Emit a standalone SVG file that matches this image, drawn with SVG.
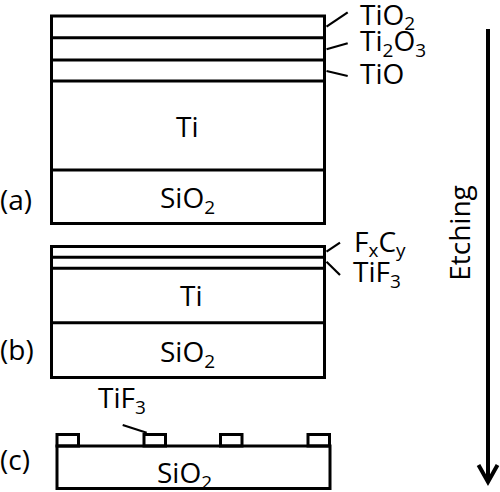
<svg xmlns="http://www.w3.org/2000/svg" width="500" height="492" viewBox="0 0 500 492">
<style>
.box{fill:none;stroke:#000;stroke-width:3}
.ln{stroke:#000;stroke-width:3;fill:none}
.ld{stroke:#000;stroke-width:2.2;fill:none}
text{font-family:"Open Sans","Noto Sans",sans-serif;font-size:28px;fill:#000}
.sub{font-size:19px}
</style>
<rect width="500" height="492" fill="#fff"/>
<g id="panel-a">
<rect class="box" x="51.5" y="16" width="273" height="207.5"/>
<line class="ln" x1="51.5" y1="37.7" x2="324.5" y2="37.7"/>
<line class="ln" x1="51.5" y1="60" x2="324.5" y2="60"/>
<line class="ln" x1="51.5" y1="81" x2="324.5" y2="81"/>
<line class="ln" x1="51.5" y1="170" x2="324.5" y2="170"/>
<text x="176" y="137">Ti</text>
<text x="160" y="208">SiO<tspan class="sub" dy="6">2</tspan></text>
<text x="0" y="210">(a)</text>
</g>
<g id="panel-b">
<rect class="box" x="51.5" y="246.5" width="273" height="131"/>
<line class="ln" x1="51.5" y1="257.3" x2="324.5" y2="257.3"/>
<line class="ln" x1="51.5" y1="268.3" x2="324.5" y2="268.3"/>
<line class="ln" x1="51.5" y1="322.7" x2="324.5" y2="322.7"/>
<text x="180" y="306">Ti</text>
<text x="160" y="362">SiO<tspan class="sub" dy="6">2</tspan></text>
<text x="0" y="360">(b)</text>
</g>
<g id="panel-c">
<rect class="box" x="57" y="446" width="273" height="42.5"/>
<rect class="box" x="57" y="434.5" width="21.5" height="11.5"/>
<rect class="box" x="144" y="434.5" width="21.5" height="11.5"/>
<rect class="box" x="220.5" y="434.5" width="21.5" height="11.5"/>
<rect class="box" x="308" y="434.5" width="21.5" height="11.5"/>
<text x="157" y="483">SiO<tspan class="sub" dy="6">2</tspan></text>
<text x="0" y="470">(c)</text>
</g>
<g id="labels">
<text x="360" y="25">TiO<tspan class="sub" dy="5">2</tspan></text>
<text x="360" y="51">Ti<tspan class="sub" dy="6">2</tspan><tspan dy="-6">O</tspan><tspan class="sub" dy="6">3</tspan></text>
<text x="360" y="84">TiO</text>
<text x="354" y="252">F<tspan class="sub" dy="5">x</tspan><tspan dy="-5">C</tspan><tspan class="sub" dy="5">y</tspan></text>
<text x="353" y="282">TiF<tspan class="sub" dy="6">3</tspan></text>
<text x="98" y="408">TiF<tspan class="sub" dy="6">3</tspan></text>
<text transform="translate(470,233) rotate(-90)" text-anchor="middle">Etching</text>
</g>
<g id="connectors">
<line class="ld" x1="326.5" y1="26.7" x2="347.7" y2="12.3"/>
<line class="ld" x1="326.5" y1="49.3" x2="347.7" y2="43.3"/>
<line class="ld" x1="326.5" y1="71" x2="347.7" y2="76"/>
<line class="ld" x1="326.5" y1="251.7" x2="340" y2="242.7"/>
<line class="ld" x1="326.5" y1="261.7" x2="340" y2="275"/>
<line class="ld" x1="122.7" y1="425" x2="146.7" y2="432.7"/>
<line x1="488" y1="29" x2="488" y2="481" stroke="#000" stroke-width="4"/>
<polyline points="478.5,465 488,482 497.5,465" fill="none" stroke="#000" stroke-width="4"/>
</g>
</svg>
